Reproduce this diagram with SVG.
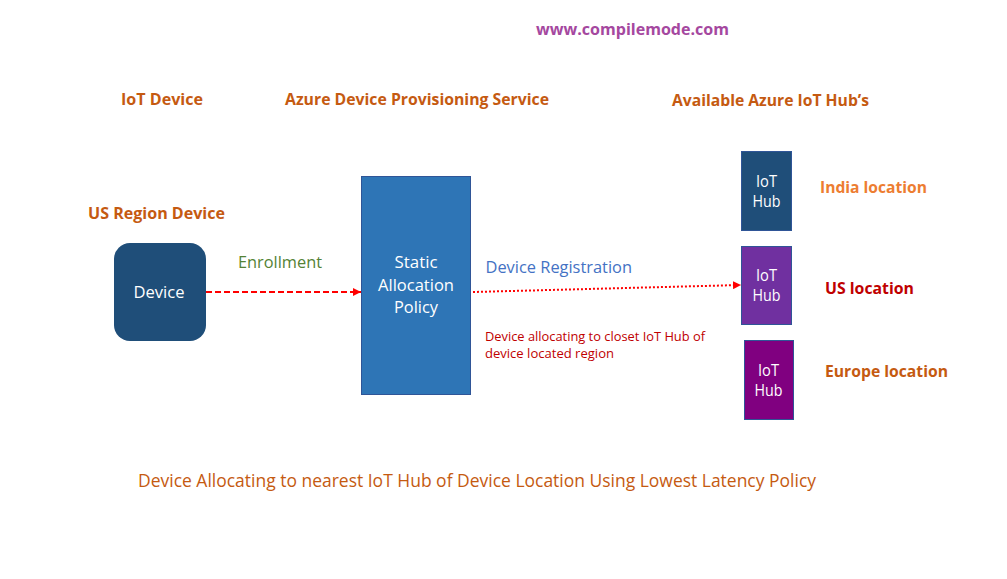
<svg xmlns="http://www.w3.org/2000/svg" width="1007" height="579" viewBox="0 0 1007 579">
<style>
text{font-family:"Open Sans","Noto Sans","Liberation Sans",sans-serif}
.h{font-size:16px;font-weight:700;fill:#c55a11}
.w{font-size:16px;fill:#fff;text-anchor:middle}
.s{stroke:#2f5597;stroke-width:1}
.c{fill:none;stroke:#f00;stroke-width:2}
</style>
<defs><marker id="a" markerUnits="userSpaceOnUse" markerWidth="8" markerHeight="8" refX="8" refY="4" orient="auto"><path d="M0 0L8 4L0 8Z" fill="#f00"/></marker></defs>
<rect width="1007" height="579" fill="#fff"/>
<g id="titles">
<text x="536" y="35" class="h" style="fill:#a5489f" textLength="193" lengthAdjust="spacingAndGlyphs">www.compilemode.com</text>
<text x="121" y="105" class="h" textLength="82" lengthAdjust="spacingAndGlyphs">IoT Device</text>
<text x="285" y="105" class="h" textLength="264" lengthAdjust="spacingAndGlyphs">Azure Device Provisioning Service</text>
<text x="672" y="106" class="h" textLength="197" lengthAdjust="spacingAndGlyphs">Available Azure IoT Hub’s</text>
<text x="88" y="219" class="h" textLength="137" lengthAdjust="spacingAndGlyphs">US Region Device</text>
<text x="820" y="193" class="h" style="fill:#ed7d31" textLength="107" lengthAdjust="spacingAndGlyphs">India location</text>
<text x="825" y="294" class="h" style="fill:#c00000" textLength="89" lengthAdjust="spacingAndGlyphs">US location</text>
<text x="825" y="377" class="h" textLength="123" lengthAdjust="spacingAndGlyphs">Europe location</text>
</g>
<g id="connectors">
<path class="c" d="M206 292H361" stroke-dasharray="6 3" marker-end="url(#a)"/>
<path class="c" d="M473 292L741 285" stroke-dasharray="2 2" marker-end="url(#a)"/>
</g>
<g id="device"><rect x="114" y="243" width="92" height="98" rx="16" fill="#1f4e79"/><text x="159" y="298" class="w" textLength="51" lengthAdjust="spacingAndGlyphs">Device</text></g>
<g id="policy"><rect class="s" x="361.500" y="176.500" width="109" height="218" fill="#2e75b6"/>
<text x="416" y="268" class="w" textLength="43" lengthAdjust="spacingAndGlyphs">Static</text>
<text x="416" y="291" class="w" textLength="76" lengthAdjust="spacingAndGlyphs">Allocation</text>
<text x="416" y="313" class="w" textLength="44" lengthAdjust="spacingAndGlyphs">Policy</text></g>
<g id="hub-india"><rect class="s" x="741.500" y="151.500" width="50" height="79" fill="#1f4e79"/><text x="766.500" y="187" class="w" textLength="21" lengthAdjust="spacingAndGlyphs">IoT</text><text x="766.500" y="207" class="w" textLength="28" lengthAdjust="spacingAndGlyphs">Hub</text></g>
<g id="hub-us"><rect class="s" x="741.500" y="246.500" width="50" height="78" fill="#7030a0"/><text x="766.500" y="281" class="w" textLength="21" lengthAdjust="spacingAndGlyphs">IoT</text><text x="766.500" y="301" class="w" textLength="28" lengthAdjust="spacingAndGlyphs">Hub</text></g>
<g id="hub-europe"><rect class="s" x="744.500" y="340.500" width="49" height="79" fill="#800080"/><text x="768.500" y="376" class="w" textLength="21" lengthAdjust="spacingAndGlyphs">IoT</text><text x="768.500" y="396" class="w" textLength="28" lengthAdjust="spacingAndGlyphs">Hub</text></g>
<g id="labels">
<text x="238" y="268" font-size="16" fill="#548235" textLength="84" lengthAdjust="spacingAndGlyphs">Enrollment</text>
<text x="485.500" y="273" font-size="16" fill="#4472c4" textLength="146.500" lengthAdjust="spacingAndGlyphs">Device Registration</text>
<text x="485" y="341" font-size="12" fill="#c00000" textLength="220" lengthAdjust="spacingAndGlyphs">Device allocating to closet IoT Hub of</text>
<text x="485" y="358" font-size="12" fill="#c00000" textLength="129" lengthAdjust="spacingAndGlyphs">device located region</text>
<text x="138" y="487" font-size="18" fill="#c55a11" textLength="678" lengthAdjust="spacingAndGlyphs">Device Allocating to nearest IoT Hub of Device Location Using Lowest Latency Policy</text>
</g>
</svg>
